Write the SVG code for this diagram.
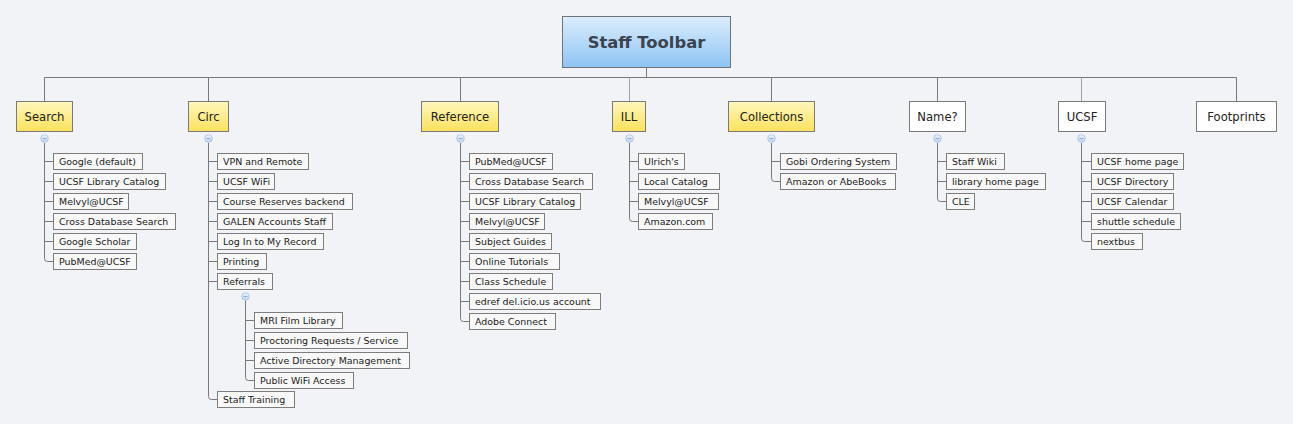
<svg xmlns="http://www.w3.org/2000/svg" width="1293" height="424" viewBox="0 0 1293 424">
<defs>
<linearGradient id="gRoot" x1="0" y1="0" x2="0" y2="1"><stop offset="0" stop-color="#dcedfc"/><stop offset="1" stop-color="#8ec4f4"/></linearGradient>
<linearGradient id="gMain" x1="0" y1="0" x2="0" y2="1"><stop offset="0" stop-color="#fff7be"/><stop offset="1" stop-color="#fbe15c"/></linearGradient>
<linearGradient id="gCol" x1="0" y1="0" x2="0" y2="1"><stop offset="0" stop-color="#eef4fc"/><stop offset="1" stop-color="#bcd3f0"/></linearGradient>
<g id="collapse"><circle r="3.8" fill="url(#gCol)" stroke="#a3bfe4" stroke-width="0.8"/><path d="M-2,0H2" stroke="#7c9dcc" stroke-width="0.8"/></g>
</defs>
<style>
.bg{fill:#f2f3f7}
.root{fill:url(#gRoot);stroke:#6f747b;stroke-width:1}
.main{fill:url(#gMain);stroke:#7a7a7a;stroke-width:1}
.plain{fill:#ffffff;stroke:#7a7a7a;stroke-width:1}
.sub{fill:#f8f8f8;stroke:#7d7d7d;stroke-width:1}
.conn path{fill:none;stroke:#787878;stroke-width:1}
.conn path.lt{stroke:#a2a2a2}
text{font-family:"DejaVu Sans","Liberation Sans",sans-serif;fill:#222}
.rt{font-size:16.4px;font-weight:bold;fill:#3b4350;text-anchor:middle}
.mt{font-size:11.6px;text-anchor:middle}
.st{font-size:9.45px}
</style>
<rect class="bg" x="0" y="0" width="1293" height="424"/>

<g id="connectors" class="conn">
<path d="M646.5,68 V77.5 M44.5,77.5 H1236.5"/>
<path d="M44.5,77.5 V101 M208.5,77.5 V101 M460.5,77.5 V101 M771.5,77.5 V101 M937.5,77.5 V101 M1236.5,77.5 V101"/>
<path class="lt" d="M629.5,77.5 V101 M1081.5,77.5 V101"/>
<path d="M44.5,143 V258.5 Q44.5,261.5 47.5,261.5 H53 M44.5,161.5 H53 M44.5,181.5 H53 M44.5,201.5 H53 M44.5,221.5 H53 M44.5,241.5 H53"/>
<path d="M208.5,143 V396.5 Q208.5,399.5 211.5,399.5 H217.5 M208.5,161.5 H217.5 M208.5,181.5 H217.5 M208.5,201.5 H217.5 M208.5,221.5 H217.5 M208.5,241.5 H217.5 M208.5,261.5 H217.5 M208.5,281.5 H217.5"/>
<path d="M245.5,300.5 V377.5 Q245.5,380.5 248.5,380.5 H254 M245.5,320.5 H254 M245.5,340.5 H254 M245.5,360.5 H254"/>
<path d="M460.5,143 V318.5 Q460.5,321.5 463.5,321.5 H469 M460.5,161.5 H469 M460.5,181.5 H469 M460.5,201.5 H469 M460.5,221.5 H469 M460.5,241.5 H469 M460.5,261.5 H469 M460.5,281.5 H469 M460.5,301.5 H469"/>
<path d="M629.5,143 V218.5 Q629.5,221.5 632.5,221.5 H638 M629.5,161.5 H638 M629.5,181.5 H638 M629.5,201.5 H638"/>
<path d="M771.5,143 V178.5 Q771.5,181.5 774.5,181.5 H780 M771.5,161.5 H780"/>
<path d="M937.5,143 V198.5 Q937.5,201.5 940.5,201.5 H946 M937.5,161.5 H946 M937.5,181.5 H946"/>
<path d="M1081.5,143 V238.5 Q1081.5,241.5 1084.5,241.5 H1091 M1081.5,161.5 H1091 M1081.5,181.5 H1091 M1081.5,201.5 H1091 M1081.5,221.5 H1091"/>
</g>

<g id="root"><rect class="root" x="562.5" y="16.5" width="168" height="51"/><text class="rt" x="646.5" y="48">Staff Toolbar</text></g>

<g id="search">
<rect class="main" x="16.5" y="101.5" width="56" height="30"/><text class="mt" x="44.5" y="120.5">Search</text>
<use href="#collapse" x="44.5" y="138.5"/>
<rect class="sub" x="53.5" y="153.5" width="89" height="16"/><text class="st" x="59" y="165">Google (default)</text>
<rect class="sub" x="53.5" y="173.5" width="112" height="16"/><text class="st" x="59" y="185">UCSF Library Catalog</text>
<rect class="sub" x="53.5" y="193.5" width="75" height="16"/><text class="st" x="59" y="205">Melvyl@UCSF</text>
<rect class="sub" x="53.5" y="213.5" width="122" height="16"/><text class="st" x="59" y="225">Cross Database Search</text>
<rect class="sub" x="53.5" y="233.5" width="83" height="16"/><text class="st" x="59" y="245">Google Scholar</text>
<rect class="sub" x="53.5" y="253.5" width="83" height="16"/><text class="st" x="59" y="265">PubMed@UCSF</text>
</g>

<g id="circ">
<rect class="main" x="188.5" y="101.5" width="40" height="30"/><text class="mt" x="208.5" y="120.5">Circ</text>
<use href="#collapse" x="208.5" y="138.5"/>
<rect class="sub" x="217.5" y="153.5" width="91" height="16"/><text class="st" x="223" y="165">VPN and Remote</text>
<rect class="sub" x="217.5" y="173.5" width="57" height="16"/><text class="st" x="223" y="185">UCSF WiFi</text>
<rect class="sub" x="217.5" y="193.5" width="135" height="16"/><text class="st" x="223" y="205">Course Reserves backend</text>
<rect class="sub" x="217.5" y="213.5" width="115" height="16"/><text class="st" x="223" y="225">GALEN Accounts Staff</text>
<rect class="sub" x="217.5" y="233.5" width="106" height="16"/><text class="st" x="223" y="245">Log In to My Record</text>
<rect class="sub" x="217.5" y="253.5" width="49" height="16"/><text class="st" x="223" y="265">Printing</text>
<rect class="sub" x="217.5" y="273.5" width="55" height="16"/><text class="st" x="223" y="285">Referrals</text>
<use href="#collapse" x="245.5" y="296.5"/>
<rect class="sub" x="254.5" y="312.5" width="88" height="16"/><text class="st" x="260" y="324">MRI Film Library</text>
<rect class="sub" x="254.5" y="332.5" width="153" height="16"/><text class="st" x="260" y="344">Proctoring Requests / Service</text>
<rect class="sub" x="254.5" y="352.5" width="155" height="16"/><text class="st" x="260" y="364">Active Directory Management</text>
<rect class="sub" x="254.5" y="372.5" width="99" height="16"/><text class="st" x="260" y="384">Public WiFi Access</text>
<rect class="sub" x="217.5" y="391.5" width="77" height="16"/><text class="st" x="223" y="403">Staff Training</text>
</g>

<g id="reference">
<rect class="main" x="421.5" y="101.5" width="77" height="30"/><text class="mt" x="460" y="120.5">Reference</text>
<use href="#collapse" x="460.5" y="138.5"/>
<rect class="sub" x="469.5" y="153.5" width="83" height="16"/><text class="st" x="475" y="165">PubMed@UCSF</text>
<rect class="sub" x="469.5" y="173.5" width="123" height="16"/><text class="st" x="475" y="185">Cross Database Search</text>
<rect class="sub" x="469.5" y="193.5" width="111" height="16"/><text class="st" x="475" y="205">UCSF Library Catalog</text>
<rect class="sub" x="469.5" y="213.5" width="75" height="16"/><text class="st" x="475" y="225">Melvyl@UCSF</text>
<rect class="sub" x="469.5" y="233.5" width="82" height="16"/><text class="st" x="475" y="245">Subject Guides</text>
<rect class="sub" x="469.5" y="253.5" width="90" height="16"/><text class="st" x="475" y="265">Online Tutorials</text>
<rect class="sub" x="469.5" y="273.5" width="83" height="16"/><text class="st" x="475" y="285">Class Schedule</text>
<rect class="sub" x="469.5" y="293.5" width="131" height="16"/><text class="st" x="475" y="305">edref del.icio.us account</text>
<rect class="sub" x="469.5" y="313.5" width="86" height="16"/><text class="st" x="475" y="325">Adobe Connect</text>
</g>

<g id="ill">
<rect class="main" x="612.5" y="101.5" width="33" height="30"/><text class="mt" x="629" y="120.5">ILL</text>
<use href="#collapse" x="629.5" y="138.5"/>
<rect class="sub" x="638.5" y="153.5" width="46" height="16"/><text class="st" x="644" y="165">Ulrich's</text>
<rect class="sub" x="638.5" y="173.5" width="81" height="16"/><text class="st" x="644" y="185">Local Catalog</text>
<rect class="sub" x="638.5" y="193.5" width="80" height="16"/><text class="st" x="644" y="205">Melvyl@UCSF</text>
<rect class="sub" x="638.5" y="213.5" width="74" height="16"/><text class="st" x="644" y="225">Amazon.com</text>
</g>

<g id="collections">
<rect class="main" x="728.5" y="101.5" width="86" height="30"/><text class="mt" x="771.5" y="120.5">Collections</text>
<use href="#collapse" x="771.5" y="138.5"/>
<rect class="sub" x="780.5" y="153.5" width="116" height="16"/><text class="st" x="786" y="165">Gobi Ordering System</text>
<rect class="sub" x="780.5" y="173.5" width="115" height="16"/><text class="st" x="786" y="185">Amazon or AbeBooks</text>
</g>

<g id="name">
<rect class="plain" x="909.5" y="101.5" width="56" height="30"/><text class="mt" x="937.5" y="120.5">Name?</text>
<use href="#collapse" x="937.5" y="138.5"/>
<rect class="sub" x="946.5" y="153.5" width="58" height="16"/><text class="st" x="952" y="165">Staff Wiki</text>
<rect class="sub" x="946.5" y="173.5" width="99" height="16"/><text class="st" x="952" y="185">library home page</text>
<rect class="sub" x="946.5" y="193.5" width="28" height="16"/><text class="st" x="952" y="205">CLE</text>
</g>

<g id="ucsf">
<rect class="plain" x="1058.5" y="101.5" width="47" height="30"/><text class="mt" x="1082" y="120.5">UCSF</text>
<use href="#collapse" x="1081.5" y="138.5"/>
<rect class="sub" x="1091.5" y="153.5" width="92" height="16"/><text class="st" x="1097" y="165">UCSF home page</text>
<rect class="sub" x="1091.5" y="173.5" width="82" height="16"/><text class="st" x="1097" y="185">UCSF Directory</text>
<rect class="sub" x="1091.5" y="193.5" width="82" height="16"/><text class="st" x="1097" y="205">UCSF Calendar</text>
<rect class="sub" x="1091.5" y="213.5" width="89" height="16"/><text class="st" x="1097" y="225">shuttle schedule</text>
<rect class="sub" x="1091.5" y="233.5" width="51" height="16"/><text class="st" x="1097" y="245">nextbus</text>
</g>

<g id="footprints">
<rect class="plain" x="1196.5" y="101.5" width="80" height="30"/><text class="mt" x="1236.5" y="120.5">Footprints</text>
</g>
</svg>
